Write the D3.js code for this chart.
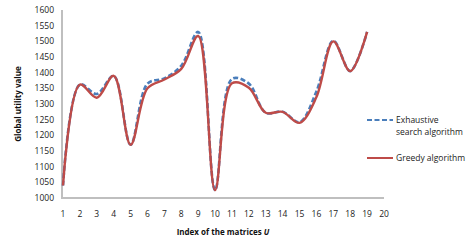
<!DOCTYPE html>
<html><head><meta charset="utf-8">
<script src="https://cdn.jsdelivr.net/npm/d3@7"></script>
<style>body{margin:0;background:#fff}svg{display:block}</style>
</head><body>
<svg id="c" width="474" height="244"></svg>
<script>
const categories = [1,2,3,4,5,6,7,8,9,10,11,12,13,14,15,16,17,18,19,20];
const exhaustive = [1040,1362,1332,1390,1170,1365,1382,1422,1530,1025,1380,1365,1272,1275,1242,1340,1502,1405,1530];
const greedy     = [1040,1362,1320,1390,1170,1350,1378,1412,1517,1025,1366,1352,1272,1275,1240,1322,1500,1405,1530];
const yTicks = [1000,1050,1100,1150,1200,1250,1300,1350,1400,1450,1500,1550,1600];
const seriesNames = ["Exhaustive search algorithm","Greedy algorithm"];

const svg = d3.select("#c");
const font = "'Open Sans', 'Liberation Sans', sans-serif";
const x = d3.scaleLinear().domain([1,20]).range([63,384]);
const y = d3.scaleLinear().domain([1000,1600]).range([198,10]);

// axes lines
svg.append("line").attr("x1",62).attr("x2",62).attr("y1",y(1600)).attr("y2",y(1000)+1)
  .attr("stroke","#bfbfbf").attr("stroke-width",2);
svg.append("line").attr("x1",62).attr("x2",x(20)).attr("y1",y(1000)).attr("y2",y(1000))
  .attr("stroke","#bfbfbf").attr("stroke-width",2);

// y tick labels
svg.append("g").selectAll("text").data(yTicks).join("text")
  .attr("x",54).attr("y",d=>y(d)).attr("dy","0.35em").attr("text-anchor","end")
  .attr("font-family",font).attr("font-size",8.5).attr("fill","#222").text(d=>d);

// x tick labels
svg.append("g").selectAll("text").data(categories).join("text")
  .attr("x",d=>x(d)).attr("y",214).attr("dy","0.35em").attr("text-anchor","middle")
  .attr("font-family",font).attr("font-size",8.5).attr("fill","#222").text(d=>d);

// axis titles
svg.append("text").attr("transform","translate(21,"+y(1300)+") rotate(-90)")
  .attr("text-anchor","middle").attr("font-family",font).attr("font-size",8)
  .attr("font-weight","bold").attr("fill","#111").text("Global utility value");
const xt = svg.append("text").attr("x",223).attr("y",235).attr("text-anchor","middle")
  .attr("font-family",font).attr("font-size",8).attr("font-weight","bold").attr("fill","#111");
xt.append("tspan").text("Index of the matrices ");
xt.append("tspan").attr("font-style","italic").text("U");

const line = d3.line().x((d,i)=>x(i+1)).y(d=>y(d)).curve(d3.curveCatmullRom.alpha(0.5));

svg.append("path").datum(exhaustive).attr("d",line).attr("fill","none")
  .attr("stroke","#4a7ebb").attr("stroke-width",2.6).attr("stroke-dasharray","5,2.5");
svg.append("path").datum(greedy).attr("d",line).attr("fill","none")
  .attr("stroke","#be4b48").attr("stroke-width",2.4);

// legend
const lg = svg.append("g");
lg.append("line").attr("x1",367).attr("x2",393).attr("y1",120).attr("y2",120)
  .attr("stroke","#4a7ebb").attr("stroke-width",2.2).attr("stroke-dasharray","5,2.5");
lg.append("text").attr("x",396).attr("y",120).attr("dy","0.35em")
  .attr("font-family",font).attr("font-size",8.5).attr("fill","#222").text("Exhaustive");
lg.append("text").attr("x",396).attr("y",132).attr("dy","0.35em")
  .attr("font-family",font).attr("font-size",8.5).attr("fill","#222").text("search algorithm");
lg.append("line").attr("x1",367).attr("x2",393).attr("y1",158).attr("y2",158)
  .attr("stroke","#be4b48").attr("stroke-width",2);
lg.append("text").attr("x",396).attr("y",158).attr("dy","0.35em")
  .attr("font-family",font).attr("font-size",8.5).attr("fill","#222").text("Greedy algorithm");
</script>
</body></html>
